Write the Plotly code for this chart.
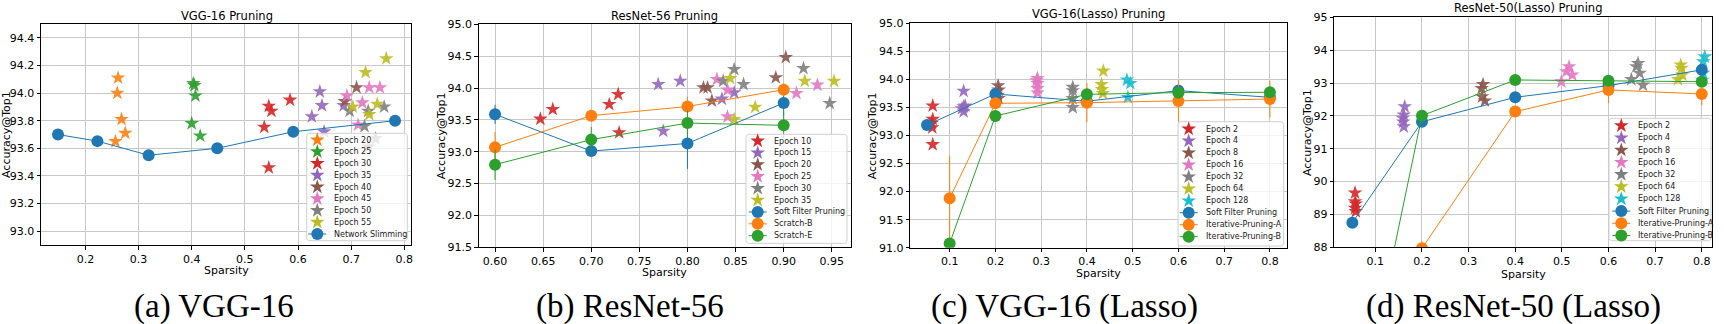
import plotly.graph_objects as go

W, H = 1724, 324

BLUE, ORANGE, GREEN, RED = "#1f77b4", "#ff7f0e", "#2ca02c", "#d62728"
PURPLE, BROWN, PINK, GRAY = "#9467bd", "#8c564b", "#e377c2", "#7f7f7f"
OLIVE, CYAN = "#bcbd22", "#17becf"

# ---------------- Panel (a) VGG-16 Pruning ----------------
a_epochs = ["Epoch 20", "Epoch 25", "Epoch 30", "Epoch 35", "Epoch 40", "Epoch 45", "Epoch 50", "Epoch 55"]
a_epoch_colors = [ORANGE, GREEN, RED, PURPLE, BROWN, PINK, GRAY, OLIVE]
a_star_x = [
    [0.2615, 0.260, 0.268, 0.275, 0.2565],
    [0.403, 0.405, 0.407, 0.400, 0.416],
    [0.5365, 0.545, 0.550, 0.585, 0.545],
    [0.626, 0.641, 0.645, 0.649, 0.686],
    [0.710, 0.688, 0.732],
    [0.692, 0.721, 0.734, 0.754, 0.713],
    [0.697, 0.732, 0.762, 0.725, 0.746],
    [0.766, 0.727, 0.749, 0.703, 0.734],
]
a_star_y = [
    [94.11, 94.00, 93.81, 93.71, 93.65],
    [94.07, 94.055, 93.98, 93.78, 93.69],
    [93.753, 93.905, 93.87, 93.95, 93.46],
    [93.83, 94.01, 93.91, 93.72, 93.91],
    [94.04, 93.94, 93.61],
    [93.98, 93.93, 94.04, 94.04, 93.77],
    [93.87, 93.87, 93.90, 93.76, 93.67],
    [94.25, 94.15, 93.92, 93.90, 93.845],
]
a_line_names = ["Network Slimming"]
a_line_colors = [BLUE]
a_line_x = [[0.1485, 0.2226, 0.319, 0.448, 0.591, 0.7825]]
a_line_y = [[93.70, 93.652, 93.55, 93.60, 93.72, 93.80]]
a_line_err = [None]
a_xticks = [0.2, 0.3, 0.4, 0.5, 0.6, 0.7, 0.8]
a_yticks = [93.0, 93.2, 93.4, 93.6, 93.8, 94.0, 94.2, 94.4]

# ---------------- Panel (b) ResNet-56 Pruning ----------------
b_epochs = ["Epoch 10", "Epoch 15", "Epoch 20", "Epoch 25", "Epoch 30", "Epoch 35"]
b_epoch_colors = [RED, PURPLE, BROWN, PINK, GRAY, OLIVE]
b_star_x = [
    [0.6471, 0.660, 0.7187, 0.728, 0.729],
    [0.7696, 0.7925, 0.7748, 0.8358, 0.8486],
    [0.8167, 0.8209, 0.8254, 0.8918, 0.9022],
    [0.8306, 0.8416, 0.8416, 0.9133, 0.9351],
    [0.8371, 0.8486, 0.8583, 0.9206, 0.9479],
    [0.8444, 0.8486, 0.8704, 0.9220, 0.9524],
]
b_star_y = [
    [93.514, 93.666, 93.744, 93.901, 93.30],
    [94.058, 94.11, 93.325, 93.828, 93.927],
    [94.006, 94.006, 93.80, 94.163, 94.482],
    [94.137, 93.969, 93.55, 93.917, 94.048],
    [94.11, 94.294, 94.058, 94.309, 93.76],
    [94.152, 93.509, 93.70, 94.11, 94.11],
]
b_line_names = ["Soft Filter Pruning", "Scratch-B", "Scratch-E"]
b_line_colors = [BLUE, ORANGE, GREEN]
b_line_x = [[0.6, 0.7, 0.8, 0.9]] * 3
b_line_y = [
    [93.587, 93.01, 93.13, 93.765],
    [93.07, 93.566, 93.71, 93.974],
    [92.797, 93.19, 93.45, 93.414],
]
b_line_err = [
    [0.15, 0.05, 0.40, 0.20],
    [0.24, 0.05, 0.15, 0.10],
    [0.24, 0.20, 0.20, 0.20],
]
b_xticks = [0.60, 0.65, 0.70, 0.75, 0.80, 0.85, 0.90, 0.95]
b_yticks = [91.5, 92.0, 92.5, 93.0, 93.5, 94.0, 94.5, 95.0]

# ---------------- Panel (c) VGG-16(Lasso) Pruning ----------------
c_epochs = ["Epoch 2", "Epoch 4", "Epoch 8", "Epoch 16", "Epoch 32", "Epoch 64", "Epoch 128"]
c_epoch_colors = [RED, PURPLE, BROWN, PINK, GRAY, OLIVE, CYAN]
c_star_x = [
    [0.063, 0.063, 0.062, 0.063, 0.061],
    [0.1306, 0.1306, 0.1306, 0.127, 0.134],
    [0.206, 0.207, 0.207, 0.205],
    [0.292, 0.292, 0.292, 0.292, 0.290],
    [0.369, 0.369, 0.369, 0.369],
    [0.436, 0.432, 0.433, 0.435],
    [0.4875, 0.4948, 0.4897],
]
c_star_y = [
    [93.53, 93.29, 93.14, 92.84, 93.22],
    [93.79, 93.514, 93.425, 93.48, 93.53],
    [93.889, 93.811, 93.663, 93.72],
    [94.02, 93.93, 93.84, 93.76, 93.98],
    [93.86, 93.80, 93.66, 93.50],
    [94.15, 93.91, 93.82, 93.75],
    [93.99, 93.93, 93.68],
]
c_line_names = ["Soft Filter Pruning", "Iterative-Pruning-A", "Iterative-Pruning-B"]
c_line_colors = [BLUE, ORANGE, GREEN]
c_line_x = [
    [0.0505, 0.2, 0.4, 0.6, 0.8],
    [0.1, 0.2, 0.4, 0.6, 0.8],
    [0.1, 0.2, 0.4, 0.6, 0.8],
]
c_line_y = [
    [93.187, 93.74, 93.61, 93.80, 93.68],
    [91.88, 93.574, 93.585, 93.615, 93.65],
    [91.077, 93.348, 93.734, 93.764, 93.77],
]
c_line_err = [
    [0.05, 0.05, 0.05, 0.05, 0.05],
    [0.76, 0.10, 0.35, 0.37, 0.33],
    [0.10, 0.10, 0.10, 0.10, 0.10],
]
c_xticks = [0.1, 0.2, 0.3, 0.4, 0.5, 0.6, 0.7, 0.8]
c_yticks = [91.0, 91.5, 92.0, 92.5, 93.0, 93.5, 94.0, 94.5, 95.0]

# ---------------- Panel (d) ResNet-50(Lasso) Pruning ----------------
d_epochs = ["Epoch 2", "Epoch 4", "Epoch 8", "Epoch 16", "Epoch 32", "Epoch 64", "Epoch 128"]
d_epoch_colors = [RED, PURPLE, BROWN, PINK, GRAY, OLIVE, CYAN]
d_star_x = [
    [0.0565, 0.0565, 0.058, 0.0565, 0.058],
    [0.163, 0.161, 0.159, 0.160, 0.161],
    [0.331, 0.328, 0.329, 0.335],
    [0.5154, 0.5097, 0.5226, 0.499],
    [0.6634, 0.6598, 0.667, 0.649, 0.674],
    [0.755, 0.7564, 0.7585, 0.749],
    [0.8064, 0.803, 0.803, 0.8014],
]
d_star_y = [
    [89.66, 89.39, 89.32, 89.19, 89.09],
    [92.28, 92.03, 91.93, 91.82, 91.67],
    [92.96, 92.84, 92.585, 92.46],
    [93.50, 93.35, 93.245, 93.04],
    [93.60, 93.50, 93.30, 93.11, 92.94],
    [93.55, 93.45, 93.245, 93.11],
    [93.80, 93.65, 93.30, 93.09],
]
d_line_names = ["Soft Filter Pruning", "Iterative-Pruning-A", "Iterative-Pruning-B"]
d_line_colors = [BLUE, ORANGE, GREEN]
d_line_x = [
    [0.0507, 0.2, 0.4, 0.6, 0.8],
    [0.2, 0.4, 0.6, 0.8],
    [0.1, 0.2, 0.4, 0.6, 0.8],
]
d_line_y = [
    [88.75, 91.82, 92.565, 92.92, 93.40],
    [87.97, 92.13, 92.79, 92.667],
    [85.2, 92.007, 93.093, 93.07, 93.04],
]
d_line_err = [
    [0.10, 0.10, 0.10, 0.10, 0.10],
    [0.20, 0.10, 0.40, 0.35],
    [0.10, 0.10, 0.10, 0.10, 0.10],
]
d_xticks = [0.1, 0.2, 0.3, 0.4, 0.5, 0.6, 0.7, 0.8]
d_yticks = [88, 89, 90, 91, 92, 93, 94, 95]

titles = ["VGG-16 Pruning", "ResNet-56 Pruning", "VGG-16(Lasso) Pruning", "ResNet-50(Lasso) Pruning"]
captions = ["(a) VGG-16", "(b) ResNet-56", "(c) VGG-16 (Lasso)", "(d) ResNet-50 (Lasso)"]
x_label = "Sparsity"
y_label = "Accuracy@Top1"

panels = [
    dict(epochs=a_epochs, ecol=a_epoch_colors, sx=a_star_x, sy=a_star_y,
         lnames=a_line_names, lcol=a_line_colors, lx=a_line_x, ly=a_line_y, lerr=a_line_err,
         xticks=a_xticks, yticks=a_yticks, xfmt="{:.1f}", yfmt="{:.1f}",
         xr=[0.1165, 0.8125], yr=[92.9, 94.5]),
    dict(epochs=b_epochs, ecol=b_epoch_colors, sx=b_star_x, sy=b_star_y,
         lnames=b_line_names, lcol=b_line_colors, lx=b_line_x, ly=b_line_y, lerr=b_line_err,
         xticks=b_xticks, yticks=b_yticks, xfmt="{:.2f}", yfmt="{:.1f}",
         xr=[0.583, 0.970], yr=[91.5, 95.0]),
    dict(epochs=c_epochs, ecol=c_epoch_colors, sx=c_star_x, sy=c_star_y,
         lnames=c_line_names, lcol=c_line_colors, lx=c_line_x, ly=c_line_y, lerr=c_line_err,
         xticks=c_xticks, yticks=c_yticks, xfmt="{:.1f}", yfmt="{:.1f}",
         xr=[0.014, 0.838], yr=[91.0, 95.0]),
    dict(epochs=d_epochs, ecol=d_epoch_colors, sx=d_star_x, sy=d_star_y,
         lnames=d_line_names, lcol=d_line_colors, lx=d_line_x, ly=d_line_y, lerr=d_line_err,
         xticks=d_xticks, yticks=d_yticks, xfmt="{:.1f}", yfmt="{:.0f}",
         xr=[0.012, 0.822], yr=[88.0, 95.0]),
]

# ---------------- layout geometry (pixels) ----------------
plot_boxes = [(41, 24, 411, 245), (478.7, 24.3, 851, 247.3),
              (910.3, 23.3, 1287.3, 247.7), (1334.3, 17.3, 1712, 247.3)]
title_pos = [(226.5, 16), (664.7, 15.7), (1098.7, 14.3), (1528, 8.3)]
xlabel_y = [270, 272.3, 273.7, 274]
ylabel_x = [6.5, 441.5, 872.8, 1306.8]
caption_pos = [(214, 306), (630, 306), (1064.5, 306), (1513, 306)]
# legend: box (l, t, r, b), first entry y, step, marker x, text x
legend_geo = [
    ((306.7, 133.3, 407.3, 240.7), 140.0, 11.75, 317.3, 331.7),
    ((746.0, 134.3, 847.0, 243.3), 141.0, 11.83, 757.7, 771.7),
    ((1178.0, 121.7, 1283.7, 246.0), 129.0, 11.96, 1188.7, 1203.7),
    ((1609.0, 118.3, 1711.0, 240.7), 125.7, 12.2, 1621.3, 1635.7),
]

FONT = "DejaVu Sans"
fig = go.Figure()
layout = dict(width=W, height=H, margin=dict(l=0, r=0, t=0, b=0, pad=0, autoexpand=False),
              paper_bgcolor="white", plot_bgcolor="white", showlegend=False, hovermode=False,
              font=dict(family=FONT, color="black"))
annotations = []


def rounded_rect(l, t, r, b, rad=2.5, n=5):
    import math
    pts = []
    corners = [(r - rad, t + rad, -90, 0), (r - rad, b - rad, 0, 90),
               (l + rad, b - rad, 90, 180), (l + rad, t + rad, 180, 270)]
    for cx, cy, a0, a1 in corners:
        for k in range(n + 1):
            a = math.radians(a0 + (a1 - a0) * k / n)
            pts.append((cx + rad * math.cos(a), cy + rad * math.sin(a)))
    pts.append(pts[0])
    return [q[0] for q in pts], [q[1] for q in pts]


for i, p in enumerate(panels):
    n = i + 1
    xa = "x" if n == 1 else f"x{n}"
    ya = "y" if n == 1 else f"y{n}"
    xo, yo = f"x{n + 4}", f"y{n + 4}"
    L, T, R, B = plot_boxes[i]
    axis_common = dict(showgrid=True, gridcolor="#c8c8c8", gridwidth=1, zeroline=False,
                       showline=True, mirror=True, linecolor="black", linewidth=1,
                       ticks="outside", ticklen=3.5, tickwidth=1, tickcolor="black", automargin=False,
                       tickfont=dict(family=FONT, size=11, color="black"), fixedrange=True)
    layout["xaxis" if n == 1 else f"xaxis{n}"] = dict(
        domain=[L / W, R / W], range=p["xr"], anchor=ya,
        tickvals=p["xticks"], ticktext=[p["xfmt"].format(v) for v in p["xticks"]], **axis_common)
    layout["yaxis" if n == 1 else f"yaxis{n}"] = dict(
        domain=[1 - B / H, 1 - T / H], range=p["yr"], anchor=xa,
        tickvals=p["yticks"], ticktext=[p["yfmt"].format(v) for v in p["yticks"]], **axis_common)
    # overlay axes in pixel units for the legend box
    layout[f"xaxis{n + 4}"] = dict(overlaying=xa, range=[L, R], anchor=yo, visible=False,
                                   fixedrange=True, automargin=False)
    layout[f"yaxis{n + 4}"] = dict(overlaying=ya, range=[B, T], anchor=xo, visible=False,
                                   fixedrange=True, automargin=False)

    # stars
    for name, col, xs, ys in zip(p["epochs"], p["ecol"], p["sx"], p["sy"]):
        fig.add_trace(go.Scatter(x=xs, y=ys, mode="markers", name=name, xaxis=xa, yaxis=ya,
                                 marker=dict(symbol="star", size=11, color=col, opacity=0.9,
                                             line=dict(width=0))))
    # lines
    for name, col, xs, ys, err in zip(p["lnames"], p["lcol"], p["lx"], p["ly"], p["lerr"]):
        kw = {}
        if err is not None:
            kw["error_y"] = dict(type="data", array=err, visible=True, thickness=1, width=0, color=col)
        fig.add_trace(go.Scatter(x=xs, y=ys, mode="lines+markers", name=name, xaxis=xa, yaxis=ya,
                                 line=dict(color=col, width=1),
                                 marker=dict(symbol="circle", size=12, color=col, line=dict(width=0)),
                                 **kw))

    # legend (drawn in overlay pixel axes)
    (bl, bt, br, bb), y0, step, mx, tx = legend_geo[i]
    rx, ry = rounded_rect(bl, bt, br, bb)
    fig.add_trace(go.Scatter(x=rx, y=ry, mode="lines", fill="toself",
                             fillcolor="rgba(255,255,255,0.8)", line=dict(color="#d0d0d0", width=1),
                             xaxis=xo, yaxis=yo, hoverinfo="skip"))
    names = p["epochs"] + p["lnames"]
    ne = len(p["epochs"])
    fig.add_trace(go.Scatter(x=[mx] * ne, y=[y0 + k * step for k in range(ne)], mode="markers",
                             xaxis=xo, yaxis=yo, hoverinfo="skip", cliponaxis=False,
                             marker=dict(symbol="star", size=11, color=p["ecol"], line=dict(width=0))))
    for j, col in enumerate(p["lcol"]):
        yy = y0 + (ne + j) * step
        fig.add_trace(go.Scatter(x=[mx - 9, mx + 9], y=[yy, yy], mode="lines", xaxis=xo, yaxis=yo,
                                 line=dict(color=col, width=1), hoverinfo="skip"))
        fig.add_trace(go.Scatter(x=[mx], y=[yy], mode="markers", xaxis=xo, yaxis=yo, cliponaxis=False,
                                 marker=dict(symbol="circle", size=12, color=col), hoverinfo="skip"))
    for k, nm in enumerate(names):
        annotations.append(dict(x=tx, y=y0 + k * step, xref=xo, yref=yo, text=nm, showarrow=False,
                                xanchor="left", yanchor="middle",
                                font=dict(family=FONT, size=8, color="#1a1a1a")))

    # titles and labels
    annotations.append(dict(x=title_pos[i][0] / W, y=1 - title_pos[i][1] / H, xref="paper", yref="paper",
                            text=titles[i], showarrow=False, xanchor="center", yanchor="middle",
                            font=dict(family=FONT, size=11.5, color="black")))
    annotations.append(dict(x=(L + R) / 2 / W, y=1 - xlabel_y[i] / H, xref="paper", yref="paper",
                            text=x_label, showarrow=False, xanchor="center", yanchor="middle",
                            font=dict(family=FONT, size=11, color="black")))
    annotations.append(dict(x=ylabel_x[i] / W, y=1 - (T + B) / 2 / H, xref="paper", yref="paper",
                            text=y_label, showarrow=False, xanchor="center", yanchor="middle",
                            textangle=-90, font=dict(family=FONT, size=11, color="black")))
    annotations.append(dict(x=caption_pos[i][0] / W, y=1 - caption_pos[i][1] / H, xref="paper", yref="paper",
                            text=captions[i], showarrow=False, xanchor="center", yanchor="middle",
                            font=dict(family="Liberation Serif", size=33, color="black")))

layout["annotations"] = annotations
fig.update_layout(**layout)
fig.write_html("out.html", config={"displayModeBar": False, "staticPlot": True},
               post_script="document.body.style.margin='0';document.body.style.overflow='hidden';")
